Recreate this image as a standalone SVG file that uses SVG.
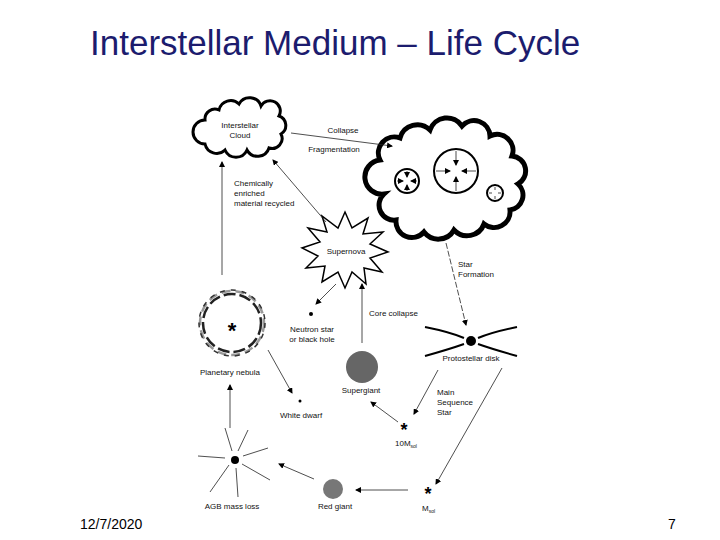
<svg xmlns="http://www.w3.org/2000/svg" width="720" height="540" viewBox="0 0 720 540">
<defs>
<marker id="ah" markerWidth="6" markerHeight="6" refX="5" refY="3" orient="auto" markerUnits="userSpaceOnUse"><path d="M0,0 L6,3 L0,6 z" fill="#000"/></marker>
<style>
.t{font-family:"Liberation Sans",Arial,sans-serif;font-size:8px;fill:#111}
.c{stroke:#222;stroke-width:0.8;fill:none;marker-end:url(#ah)}
.s{font-family:"Liberation Sans",Arial,sans-serif;font-size:22px;font-weight:bold;fill:#000}
.s2{font-family:"Liberation Sans",Arial,sans-serif;font-size:18px;font-weight:bold;fill:#000}
</style>
</defs>
<rect width="720" height="540" fill="#fff"/>
<text x="90" y="55" font-family="Liberation Sans,Arial,sans-serif" font-size="35" fill="#1c1c6e">Interstellar Medium – Life Cycle</text>
<text x="80" y="529" font-family="Liberation Sans,Arial,sans-serif" font-size="14" fill="#000">12/7/2020</text>
<text x="668" y="529" font-family="Liberation Sans,Arial,sans-serif" font-size="14" fill="#000">7</text>

<g id="interstellar-cloud">
<path d="M205,120 a10,10 0 0 1 14,-10 a12,12 0 0 1 20,-6 a12,12 0 0 1 22,2 a10,10 0 0 1 18,10 a10,10 0 0 1 2,18 a10,10 0 0 1 -12,14 a12,12 0 0 1 -22,2 a12,12 0 0 1 -22,0 a12,12 0 0 1 -20,-6 a10,10 0 0 1 0,-24 z" fill="#fff" stroke="#000" stroke-width="3"/>
<text class="t" x="240" y="128" text-anchor="middle">Interstellar</text>
<text class="t" x="240" y="138" text-anchor="middle">Cloud</text>
</g>

<g id="collapsing-cloud">
<path d="M380,160 a16,16 0 0 1 20,-22 a18,18 0 0 1 30,-8 a18,18 0 0 1 32,-4 a16,16 0 0 1 28,10 a16,16 0 0 1 22,20 a15,15 0 0 1 6,28 a15,15 0 0 1 -8,26 a16,16 0 0 1 -26,14 a18,18 0 0 1 -30,6 a18,18 0 0 1 -30,2 a16,16 0 0 1 -28,-12 a15,15 0 0 1 -12,-26 a15,15 0 0 1 -4,-34 z" fill="#fff" stroke="#000" stroke-width="5"/>
<circle cx="407" cy="181" r="12" fill="none" stroke="#000" stroke-width="2"/>
<circle cx="456" cy="171" r="22" fill="none" stroke="#000" stroke-width="2"/>
<circle cx="495" cy="193" r="8" fill="none" stroke="#000" stroke-width="2"/>
<g stroke="#000" stroke-width="0.7" fill="none">
<path d="M397,181h6" marker-end="url(#ah)"/><path d="M417,181h-6" marker-end="url(#ah)"/><path d="M407,171v6" marker-end="url(#ah)"/><path d="M407,191v-6" marker-end="url(#ah)"/>
<path d="M436,171h14" marker-end="url(#ah)"/><path d="M476,171h-14" marker-end="url(#ah)"/><path d="M456,151v14" marker-end="url(#ah)"/><path d="M456,191v-14" marker-end="url(#ah)"/>
<path d="M489,193h3M501,193h-3M495,187v3M495,199v-3"/>
</g>
</g>

<g id="supernova">
<polygon points="345,212 352,228 368,218 363,234 383,232 370,244 388,252 370,258 382,272 364,268 366,284 352,272 345,288 338,272 322,282 325,266 306,268 318,256 302,248 320,242 308,228 327,232 322,216 338,228" fill="#fff" stroke="#000" stroke-width="1.5"/>
<text class="t" x="346" y="254" text-anchor="middle">Supernova</text>
</g>

<g id="protostellar-disk">
<path d="M425,327 Q450,332 464,338 M517,327 Q492,332 478,338 M425,356 Q450,349 464,344 M517,356 Q492,349 478,344" fill="none" stroke="#000" stroke-width="2"/>
<circle cx="471" cy="341" r="5" fill="#000"/>
<text class="t" x="471" y="361" text-anchor="middle">Protostellar disk</text>
</g>

<g id="neutron-star">
<circle cx="311" cy="314" r="2" fill="#000"/>
<text class="t" x="312" y="332" text-anchor="middle">Neutron star</text>
<text class="t" x="312" y="342" text-anchor="middle">or black hole</text>
</g>

<g id="supergiant">
<circle cx="362" cy="367" r="16" fill="#666"/>
<text class="t" x="361" y="393" text-anchor="middle">Supergiant</text>
</g>

<g id="planetary-nebula">
<circle cx="232" cy="323" r="32" fill="none" stroke="#999" stroke-width="2.5" stroke-dasharray="9,5"/>
<circle cx="232" cy="323" r="29" fill="none" stroke="#222" stroke-width="2.5" stroke-dasharray="12,4"/>
<circle cx="232" cy="323" r="33" fill="none" stroke="#333" stroke-width="1.5" stroke-dasharray="5,6"/>
<text class="s" x="232" y="338" text-anchor="middle">*</text>
<text class="t" x="230" y="375" text-anchor="middle">Planetary nebula</text>
</g>

<g id="white-dwarf">
<circle cx="300" cy="401" r="1.5" fill="#000"/>
<text class="t" x="301" y="418" text-anchor="middle">White dwarf</text>
</g>

<g id="star-10msol">
<text class="s2" x="404" y="436" text-anchor="middle">*</text>
<text class="t" x="395" y="446">10M<tspan font-size="5" dy="2">sol</tspan></text>
</g>

<g id="star-msol">
<text class="s2" x="428" y="500" text-anchor="middle">*</text>
<text class="t" x="422" y="511">M<tspan font-size="5" dy="2">sol</tspan></text>
</g>

<g id="red-giant">
<circle cx="333" cy="489" r="10" fill="#777"/>
<text class="t" x="335" y="509" text-anchor="middle">Red giant</text>
</g>

<g id="agb">
<circle cx="235" cy="460" r="4" fill="#000"/>
<g stroke="#222" stroke-width="0.8">
<path d="M225,458 L198,456 M232,451 L225,428 M238,451 L248,430 M243,456 L268,448 M242,464 L270,480 M236,468 L238,497 M229,465 L210,492"/>
</g>
<text class="t" x="232" y="509" text-anchor="middle">AGB mass loss</text>
</g>

<g id="connectors">
<path class="c" d="M291,133 L392,146"/>
<path class="c" d="M222,275 L222,162"/>
<path class="c" d="M326,222 L273,160"/>
<path class="c" d="M446,243 L466,325" stroke-dasharray="6,2"/>
<path class="c" d="M336,284 L316,304"/>
<path class="c" d="M362,343 L362,284"/>
<path class="c" d="M268,350 L292,393"/>
<path class="c" d="M438,370 L414,414"/>
<path class="c" d="M398,422 L371,402"/>
<path class="c" d="M502,368 L436,484"/>
<path class="c" d="M408,490 L356,490"/>
<path class="c" d="M314,479 L279,464"/>
<path class="c" d="M230,428 L230,385"/>
</g>
<g id="labels">
<text class="t" x="343" y="133" text-anchor="middle">Collapse</text>
<text class="t" x="334" y="152" text-anchor="middle">Fragmentation</text>
<text class="t" x="234" y="186">Chemically</text>
<text class="t" x="234" y="196">enriched</text>
<text class="t" x="234" y="206">material recycled</text>
<text class="t" x="458" y="267">Star</text>
<text class="t" x="458" y="277">Formation</text>
<text class="t" x="369" y="316">Core collapse</text>
<text class="t" x="437" y="395">Main</text>
<text class="t" x="437" y="405">Sequence</text>
<text class="t" x="437" y="415">Star</text>
</g>
</svg>
